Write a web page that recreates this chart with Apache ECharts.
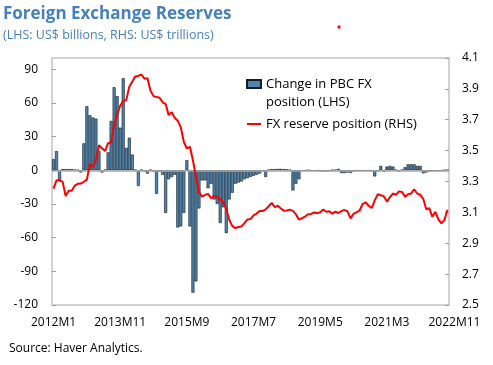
<!DOCTYPE html>
<html><head><meta charset="utf-8">
<script src="https://cdn.jsdelivr.net/npm/echarts@6/dist/echarts.min.js"></script>
<style>html,body{margin:0;padding:0;background:#fff}#c{width:493px;height:365px}</style>
</head><body><div id="c"></div>
<script>
// Monthly categories 2012M1 .. 2022M11
const startYear = 2012, endYear = 2022, endMonth = 11;
const categories = [];
for (let y = startYear; y <= endYear; y++) {
  for (let m = 1; m <= 12; m++) {
    if (y === endYear && m > endMonth) break;
    categories.push(y + 'M' + m);
  }
}
const xTickLabels = ['2012M1', '2013M11', '2015M9', '2017M7', '2019M5', '2021M3', '2022M11'];

// Change in PBC FX position (LHS, US$ billions)
const pbcChange = [
  10, 17, -9, 1, 1, 1, 1, 0.5, 0.3, -2, 24, 57,
  49, 47, 46, 17, -2, 0.5, 16, 44, 74, 66, 38, 82,
  20, 29, 14, 0.5, -14, 0.5, -1, -3, 0.5, -1, -21, -1,
  -4, -38, -8, -6, -4, -51, -50, -38, 9, -50, -109, -99,
  -34, -9, -9, -16, -12, -26, -30, -47, -33, -56, -26, -20,
  -12, -11, -10, -8, -7, -6, -5, -4, -3, -1, -6, 0.5,
  1, 1, 1.2, 1.2, 1, 0.8, 0.3, -18, -12, -8, -0.5, -0.3,
  0.2, -0.3, -0.5, -0.3, -1, -1.2, -1, -0.5, 0.3, 0.3, 1.2, -2.5,
  -2.5, -2, -2.5, -1, -0.3, -0.5, -0.3, -0.5, -0.3, -1, -5.5, -1,
  3.9, -1.2, 3.3, 3.9, 3.3, 0.5, -1, 0.5, 2.7, 5.3, 5.3, 5.3,
  3.9, 3.9, -2.7, -2, -1, -0.8, -0.5, -0.5, -0.3, 0.2, 0.3
];

// FX reserve position (RHS, US$ trillions)
const reserves = [
  3.254, 3.309, 3.305, 3.299, 3.206, 3.240, 3.240, 3.273, 3.285, 3.287, 3.298, 3.312,
  3.410, 3.395, 3.443, 3.535, 3.515, 3.497, 3.548, 3.553, 3.663, 3.736, 3.790, 3.821,
  3.827, 3.914, 3.948, 3.981, 3.984, 3.993, 3.966, 3.969, 3.888, 3.853, 3.847, 3.843,
  3.813, 3.802, 3.730, 3.748, 3.711, 3.694, 3.651, 3.557, 3.514, 3.525, 3.438, 3.330,
  3.231, 3.202, 3.213, 3.220, 3.192, 3.205, 3.201, 3.185, 3.166, 3.121, 3.052, 3.011,
  2.998, 3.005, 3.009, 3.030, 3.054, 3.057, 3.081, 3.092, 3.109, 3.109, 3.119, 3.140,
  3.161, 3.134, 3.143, 3.125, 3.111, 3.112, 3.118, 3.110, 3.087, 3.053, 3.062, 3.073,
  3.088, 3.090, 3.099, 3.095, 3.101, 3.119, 3.104, 3.107, 3.092, 3.105, 3.096, 3.108,
  3.115, 3.107, 3.061, 3.091, 3.102, 3.112, 3.154, 3.165, 3.143, 3.128, 3.178, 3.217,
  3.211, 3.205, 3.170, 3.198, 3.222, 3.214, 3.236, 3.232, 3.201, 3.218, 3.222, 3.250,
  3.222, 3.214, 3.188, 3.120, 3.128, 3.071, 3.104, 3.055, 3.029, 3.052, 3.117
];

const barName = 'Change in PBC FX position (LHS)';
const lineName = 'FX reserve position (RHS)';
const FONT = '"Open Sans", "Noto Sans", sans-serif';
const BLUE = '#4681BF';

const chart = echarts.init(document.getElementById('c'), null, {renderer: 'canvas'});
chart.setOption({
  animation: false,
  textStyle: {fontFamily: FONT},
  grid: {left: 52, right: 44, top: 58, bottom: 60, show: true, borderColor: '#c4c4c4', borderWidth: 1.5, containLabel: false},
  legend: {
    orient: 'vertical', left: 246, top: 57, padding: 0, itemGap: 4,
    itemWidth: 14, itemHeight: 8, symbolKeepAspect: true,
    data: [
      {name: barName, icon: 'rect'},
      {name: lineName, icon: 'path://M0,0 L14,0 L14,2 L0,2 Z'}
    ],
    textStyle: {fontSize: 13, lineHeight: 18, color: '#000', fontFamily: FONT},
    formatter: function (name) {
      return name === barName ? ' \nChange in PBC FX\nposition (LHS)' : name;
    }
  },
  xAxis: {
    type: 'category', data: categories, boundaryGap: true,
    axisLine: {show: false}, axisTick: {show: false},
    axisLabel: {
      interval: function (i, v) { return xTickLabels.indexOf(v) >= 0; },
      formatter: function (v) { return v === '2022M11' ? '{last|' + v + '}' : v; },
      rich: {last: {padding: [0, 0, 0, 14], fontSize: 12, color: '#000', fontFamily: FONT}},
      fontSize: 12, color: '#000', margin: 12, fontFamily: FONT
    }
  },
  yAxis: [
    {
      type: 'value', min: -120, max: 100, interval: 30, position: 'left',
      axisLine: {show: false}, splitLine: {show: false},
      axisTick: {show: true, inside: true, length: 4, lineStyle: {color: '#a0a0a0'}},
      axisLabel: {fontSize: 12, color: '#000', margin: 14, showMaxLabel: false, fontFamily: FONT}
    },
    {
      type: 'value', min: 2.5, max: 4.1, interval: 0.2, position: 'right',
      axisLine: {show: false}, splitLine: {show: false},
      axisTick: {show: true, inside: true, length: 4, lineStyle: {color: '#a0a0a0'}},
      axisLabel: {fontSize: 12, color: '#000', margin: 13, fontFamily: FONT,
        formatter: function (v) { return v.toFixed(1); }}
    }
  ],
  series: [
    {
      name: barName, type: 'bar', yAxisIndex: 0, data: pbcChange,
      barCategoryGap: '0%',
      itemStyle: {color: '#4A86B5', borderColor: '#1b1b1b', borderWidth: 0.6},
      markLine: {
        silent: true, symbol: 'none', label: {show: false},
        lineStyle: {color: '#a8a8a8', width: 1.5, type: 'solid'},
        data: [{yAxis: 0}]
      }
    },
    {
      name: lineName, type: 'line', yAxisIndex: 1, data: reserves,
      symbol: 'none', z: 5,
      lineStyle: {color: '#ff0000', width: 2},
      itemStyle: {color: '#ff0000'}
    }
  ],
  graphic: [
    {type: 'text', left: 3, top: 6, style: {text: 'Foreign Exchange Reserves', font: 'bold 17px ' + FONT, fill: BLUE}},
    {type: 'text', left: 3, top: 29, style: {text: '(LHS: US$ billions, RHS: US$ trillions)', font: '12.5px ' + FONT, fill: BLUE}},
    {type: 'text', left: 9, top: 343, style: {text: 'Source: Haver Analytics.', font: '12px ' + FONT, fill: '#000'}},
    {type: 'circle', shape: {cx: 339, cy: 27, r: 1.7}, style: {fill: '#e8111a'}}
  ]
});
</script></body></html>
